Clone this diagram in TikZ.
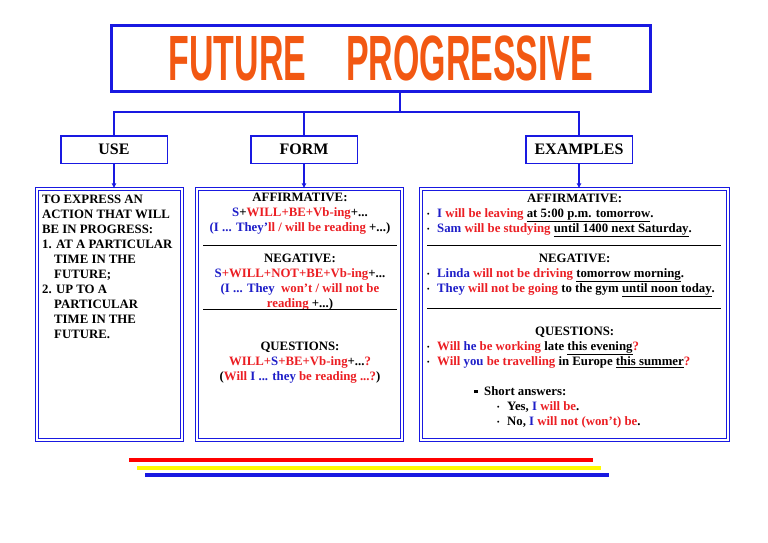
\documentclass[tikz,border=0pt]{standalone}
\usepackage{fontspec}
\setmainfont{Liberation Serif}
\newfontfamily\wordartfont{Liberation Sans}
\usepackage{graphicx}
\usetikzlibrary{arrows.meta}

\definecolor{boxblue}{RGB}{25,25,225}
\definecolor{txtred}{RGB}{235,30,35}
\definecolor{txtblue}{RGB}{30,30,200}
\definecolor{artfill}{RGB}{242,88,18}
\definecolor{stripeyellow}{RGB}{255,250,0}

\newcommand{\rtxt}[1]{\textcolor{txtred}{#1}}
\newcommand{\btxt}[1]{\textcolor{txtblue}{#1}}
\newcommand{\bul}{\makebox[10pt][l]{\raisebox{0.5pt}{\scriptsize\textbullet}}}
\newcommand{\exhead}[1]{\makebox[295pt]{#1}}

\tikzset{
  titlebox/.style={draw=boxblue, line width=3pt, minimum width=539pt, minimum height=66pt, inner sep=0pt},
  headbox/.style={draw=boxblue, line width=1.5pt, minimum width=106.5pt, minimum height=27.5pt, inner sep=0pt, font=\fontsize{16}{16}\selectfont\bfseries},
  colbox/.style={draw=boxblue, line width=1.2pt, double=white, double distance=1.6pt, inner sep=0pt, minimum height=251pt},
  coltext/.style={inner sep=0pt, font=\fontsize{12.8}{15}\selectfont\bfseries},
  link/.style={draw=boxblue, line width=2pt},
  arrow/.style={link, -{Latex[length=5pt,width=5pt]}},
  rule/.style={line width=1pt},
  stripe/.style={line width=4pt}
}

\begin{document}
\begin{tikzpicture}[x=1pt,y=-1pt]
\useasboundingbox (0,0) rectangle (768,543);
\node[titlebox] (title) at (381,58.5) {\scalebox{0.53}[1]{\wordartfont\bfseries\fontsize{64}{64}\selectfont\color{artfill}FUTURE\hspace{1.18em}PROGRESSIVE}};
\node[headbox] (use) at (114,149.5) {USE};
\node[headbox] (form) at (304,149.5) {FORM};
\node[headbox] (examples) at (579,149.5) {EXAMPLES};
\coordinate (branch) at (400,112);
\draw[link] (branch) -- (branch |- title.south);
\draw[link] (use.north) |- (branch) -| (examples.north);
\draw[link] (form.north) -- (form.north |- branch);

\node[colbox, minimum width=145pt] (usebox) at (109.5,314.5) {};
\node[colbox, minimum width=205pt] (formbox) at (299.5,314.5) {};
\node[colbox, minimum width=307pt] (exbox) at (574.5,314.5) {};
\draw[arrow] (use.south) -- (use.south |- usebox.north);
\draw[arrow] (form.south) -- (form.south |- formbox.north);
\draw[arrow] (examples.south) -- (examples.south |- exbox.north);

\node[coltext, align=left, anchor=north west] (usetxt) at (42,192.5) {\strut TO EXPRESS AN\\ ACTION THAT WILL\\ BE IN PROGRESS:\\ 1. AT A PARTICULAR\\ \hspace*{12pt}TIME IN THE\\ \hspace*{12pt}FUTURE;\\ 2. UP TO A\\ \hspace*{12pt}PARTICULAR\\ \hspace*{12pt}TIME IN THE\\ \hspace*{12pt}FUTURE.};

\node[coltext, align=center, anchor=north] (formaff) at (300,190.5) {\strut AFFIRMATIVE:\\ \btxt{S}+\rtxt{WILL+BE+Vb-ing}+...\\ \btxt{(I ... They'}\rtxt{ll / will be reading} +...)};
\draw[rule] (203,245) -- (397,245);
\node[coltext, align=center, anchor=north] (formneg) at (300,251.5) {\strut NEGATIVE:\\ \btxt{S}\rtxt{+WILL+NOT+BE+Vb-ing}+...\\ \btxt{(I ... They}\ \ \rtxt{won't / will not be}\\ \rtxt{reading} +...)};
\draw[rule] (203,309) -- (397,309);
\node[coltext, align=center, anchor=north] (formq) at (300,339.5) {\strut QUESTIONS:\\ \rtxt{WILL+}\btxt{S}\rtxt{+BE+Vb-ing}+...\rtxt{?}\\ (\rtxt{Will} \btxt{I ... they} \rtxt{be reading ...?})};

\node[coltext, align=left, anchor=north west] (exaff) at (427,191.5) {\strut\exhead{AFFIRMATIVE:}\\ \bul\btxt{I} \rtxt{will be leaving} \underline{at 5:00 p.m. tomorrow}.\\ \bul\btxt{Sam} \rtxt{will be studying} \underline{until 1400 next Saturday}.};
\draw[rule] (427,245) -- (721,245);
\node[coltext, align=left, anchor=north west] (exneg) at (427,251.5) {\strut\exhead{NEGATIVE:}\\ \bul\btxt{Linda} \rtxt{will not be driving} \underline{tomorrow morning}.\\ \bul\btxt{They} \rtxt{will not be going} to the gym \underline{until noon today}.};
\draw[rule] (427,308) -- (721,308);
\node[coltext, align=left, anchor=north west] (exq) at (427,324.5) {\strut\exhead{QUESTIONS:}\\ \bul\rtxt{Will} \btxt{he} \rtxt{be working} late \underline{this evening}\rtxt{?}\\ \bul\rtxt{Will} \btxt{you} \rtxt{be travelling} in Europe \underline{this summer}\rtxt{?}};
\node[coltext, align=left, anchor=north west] (exshort) at (474,384.5) {\strut\makebox[10pt][l]{\rule[2pt]{3.5pt}{3.5pt}}Short answers:\\ \hspace*{23pt}\bul Yes, \btxt{I} \rtxt{will be}.\\ \hspace*{23pt}\bul No, \btxt{I} \rtxt{will not (won't) be}.};

\draw[stripe, red] (129,460) -- (593,460);
\draw[stripe, stripeyellow] (137,468) -- (601,468);
\draw[stripe, boxblue] (145,475) -- (609,475);
\end{tikzpicture}
\end{document}
